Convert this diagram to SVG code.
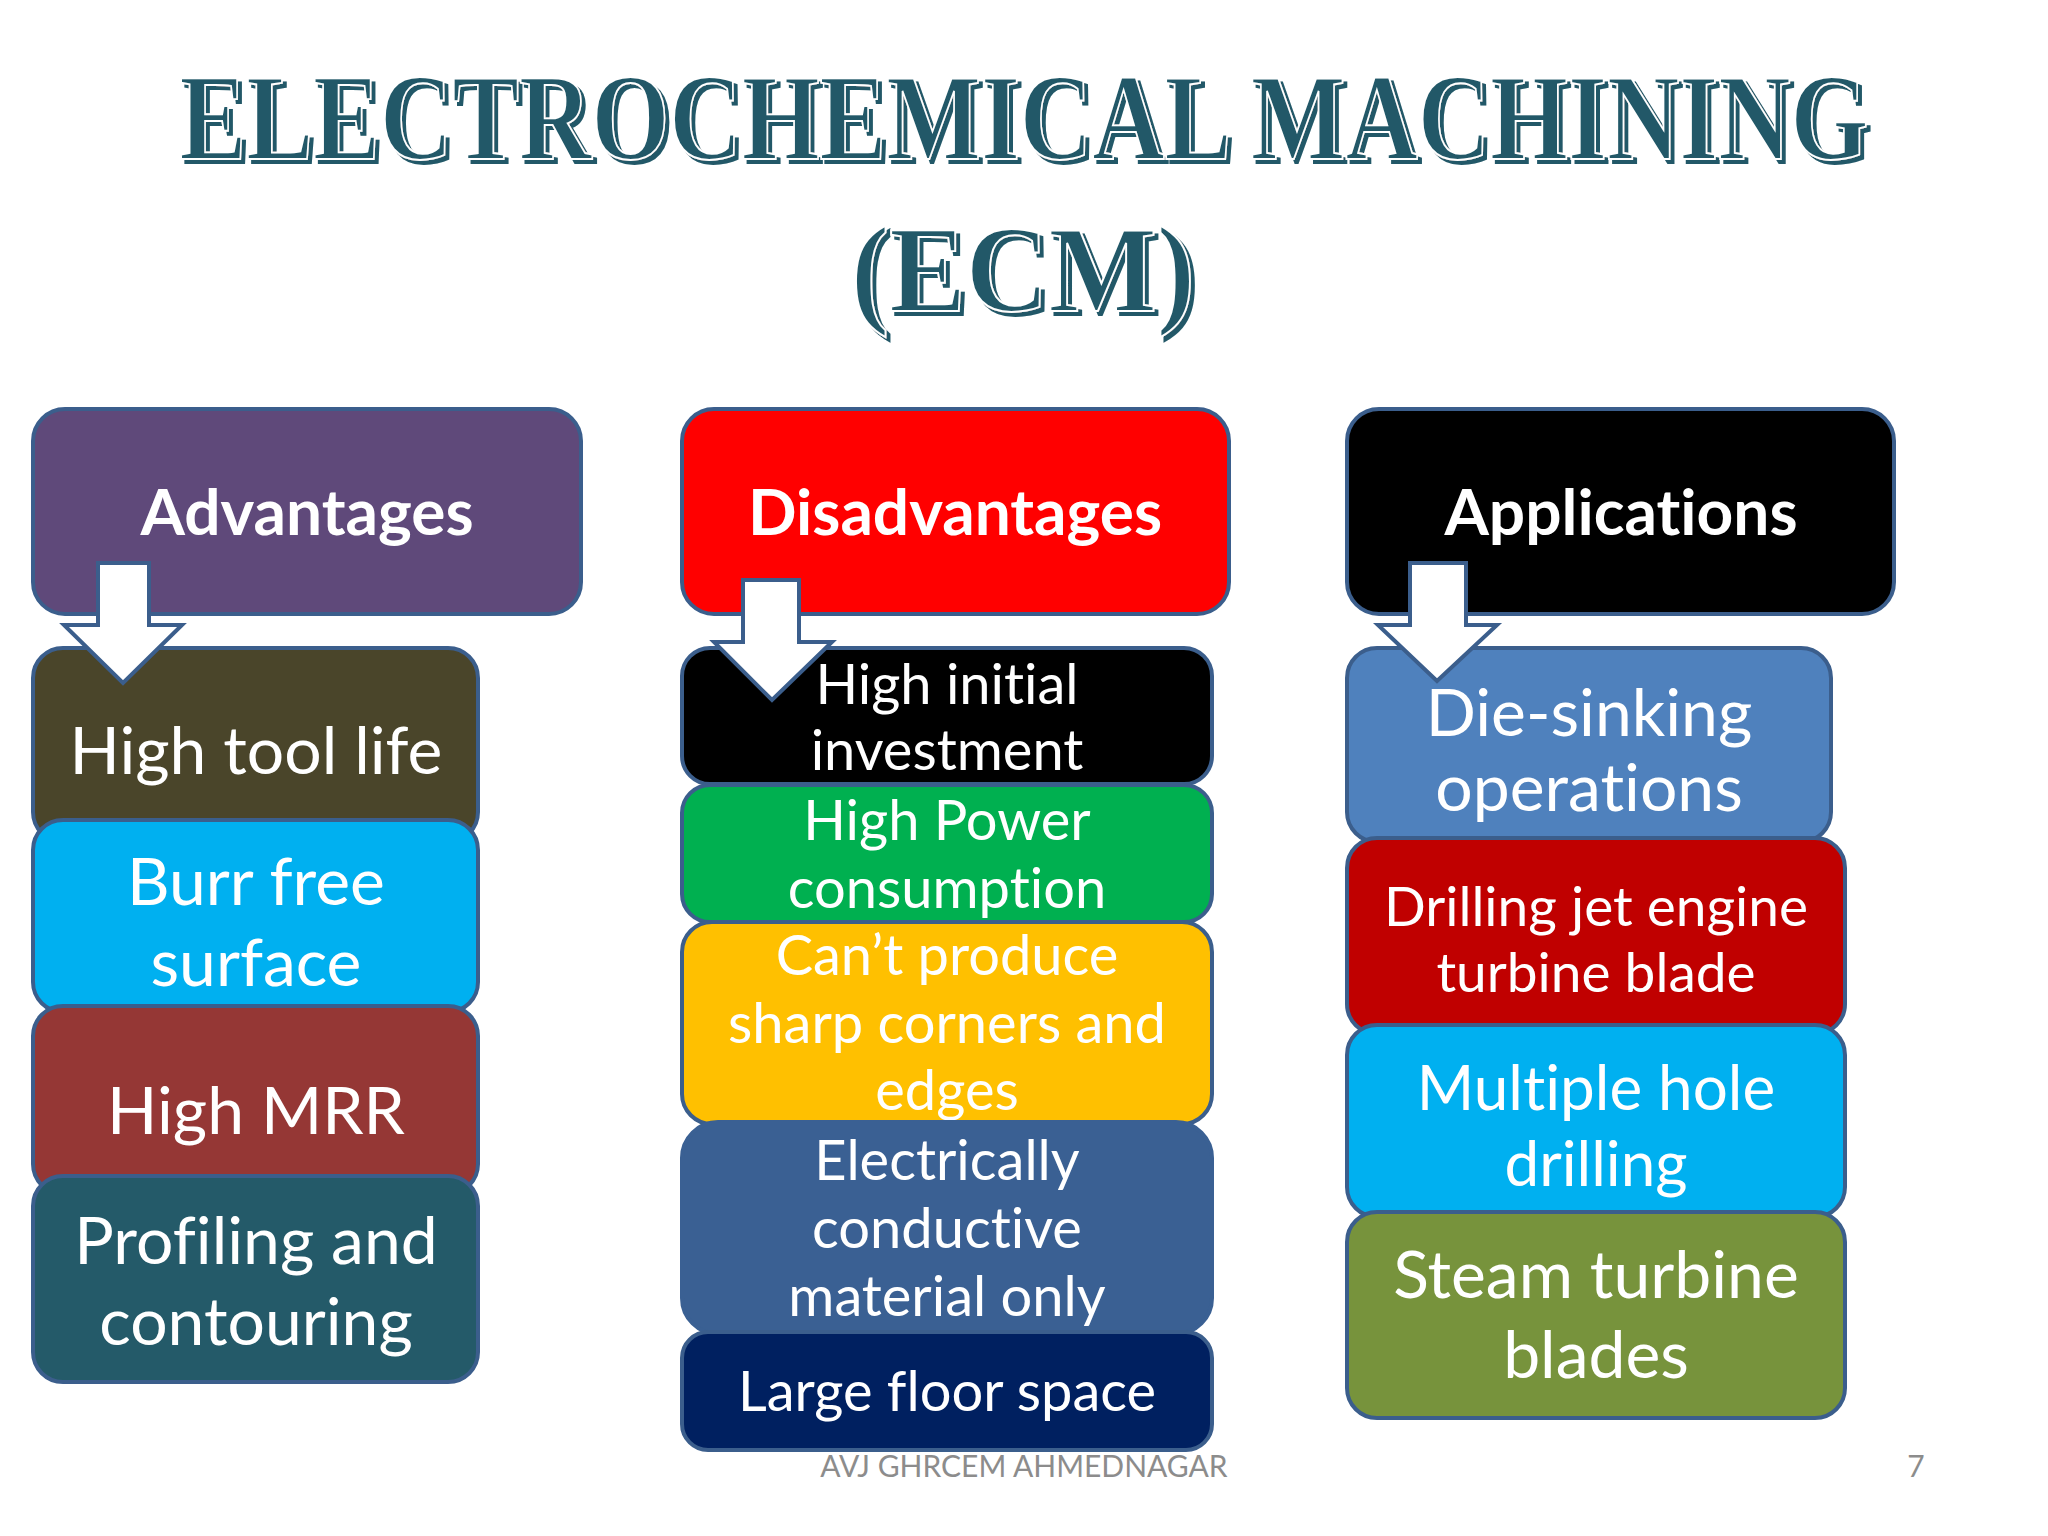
<svg xmlns="http://www.w3.org/2000/svg" width="2048" height="1536" viewBox="0 0 2048 1536">
<defs>
<filter id="shadow" x="-5%" y="-20%" width="110%" height="150%">
<feOffset in="SourceAlpha" dx="4" dy="3" result="off"/>
<feFlood flood-color="#215868"/>
<feComposite in2="off" operator="in" result="sh"/>
<feMerge><feMergeNode in="sh"/><feMergeNode in="SourceGraphic"/></feMerge>
</filter>
</defs>
<style>
.box{stroke:#3B5E8C;stroke-width:4}
.t{font-family:Lato,"Open Sans","Liberation Sans",sans-serif;fill:#fff;text-anchor:middle;font-variant-ligatures:none;font-feature-settings:"liga" 0,"clig" 0,"dlig" 0,"calt" 0}
.h{font-weight:bold;font-size:64px}
.a{font-size:66px}
.m{font-size:56px}
.r{font-size:55px}
.title{font-family:"Liberation Serif","DejaVu Serif",serif;font-weight:bold;font-size:100px;text-anchor:middle;fill:#215868;stroke:#fff;stroke-width:1.6;filter:url(#shadow)}
.arrow{fill:#fff;stroke:#3B5E8C;stroke-width:4;stroke-linejoin:miter}
.foot{font-family:Lato,"Open Sans",sans-serif;font-size:30px;fill:#8C8C8C;text-anchor:middle}
</style>
<rect width="2048" height="1536" fill="#fff"/>
<g id="title">
<text class="title" transform="translate(1024,159) scale(1,1.22)" x="0" y="0" textLength="1689" lengthAdjust="spacingAndGlyphs">ELECTROCHEMICAL MACHINING</text>
<text class="title" transform="translate(1023,311) scale(1,1.22)" x="0" y="0" textLength="344" lengthAdjust="spacingAndGlyphs">(ECM)</text>
</g>
<g id="footer">
<text class="foot" x="1024" y="1477">AVJ GHRCEM AHMEDNAGAR</text>
<text class="foot" x="1916" y="1477">7</text>
</g>
<g id="advantages">
<rect class="box" x="33" y="409" width="548" height="205" rx="32" fill="#5F497A"/>
<text class="t h" x="307" y="535">Advantages</text>
</g>
<g id="adv-tool-life">
<rect class="box" x="33" y="648" width="445" height="194" rx="30" fill="#4A452A"/>
<text class="t a" x="256" y="774">High tool life</text>
</g>
<g id="adv-burr">
<rect class="box" x="33" y="820" width="445" height="192" rx="30" fill="#00B0F0"/>
<text class="t a" x="256" y="905">Burr free</text>
<text class="t a" x="256" y="986">surface</text>
</g>
<g id="adv-mrr">
<rect class="box" x="33" y="1006" width="445" height="188" rx="30" fill="#953735"/>
<text class="t a" x="256" y="1134">High MRR</text>
</g>
<g id="adv-profiling">
<rect class="box" x="33" y="1176" width="445" height="206" rx="30" fill="#245A69"/>
<text class="t a" x="256" y="1264">Profiling and</text>
<text class="t a" x="256" y="1345">contouring</text>
</g>
<g id="disadvantages">
<rect class="box" x="682" y="409" width="547" height="205" rx="32" fill="#FF0000"/>
<text class="t h" x="955" y="535">Disadvantages</text>
</g>
<g id="dis-investment">
<rect class="box" x="682" y="648" width="530" height="136" rx="28" fill="#000000"/>
<text class="t m" x="947" y="704">High initial</text>
<text class="t m" x="947" y="770">investment</text>
</g>
<g id="dis-power">
<rect class="box" x="682" y="785" width="530" height="137" rx="28" fill="#00B050"/>
<text class="t m" x="947" y="840">High Power</text>
<text class="t m" x="947" y="908">consumption</text>
</g>
<g id="dis-corners">
<rect class="box" x="682" y="922" width="530" height="202" rx="30" fill="#FFC000"/>
<text class="t m" x="947" y="975">Can’t produce</text>
<text class="t m" x="947" y="1043">sharp corners and</text>
<text class="t m" x="947" y="1110">edges</text>
</g>
<g id="dis-conductive">
<rect x="682" y="1122" width="530" height="212" rx="36" fill="#3A6093" stroke="#3A6093" stroke-width="4"/>
<text class="t m" x="947" y="1180">Electrically</text>
<text class="t m" x="947" y="1248">conductive</text>
<text class="t m" x="947" y="1316">material only</text>
</g>
<g id="dis-floor">
<rect class="box" x="682" y="1332" width="530" height="118" rx="26" fill="#002060"/>
<text class="t m" x="947" y="1411">Large floor space</text>
</g>
<g id="applications">
<rect class="box" x="1347" y="409" width="547" height="205" rx="32" fill="#000000"/>
<text class="t h" x="1621" y="535">Applications</text>
</g>
<g id="app-die">
<rect class="box" x="1347" y="648" width="484" height="194" rx="30" fill="#4F81BD"/>
<text class="t a" x="1589" y="736">Die-sinking</text>
<text class="t a" x="1589" y="811">operations</text>
</g>
<g id="app-drilling">
<rect class="box" x="1347" y="838" width="498" height="196" rx="30" fill="#C00000"/>
<text class="t r" x="1596" y="926">Drilling jet engine</text>
<text class="t r" x="1596" y="992">turbine blade</text>
</g>
<g id="app-multiple">
<rect class="box" x="1347" y="1025" width="498" height="192" rx="30" fill="#00B0F0"/>
<text class="t" x="1596" y="1110" font-size="62">Multiple hole</text>
<text class="t" x="1596" y="1186" font-size="62">drilling</text>
</g>
<g id="app-steam">
<rect class="box" x="1347" y="1212" width="498" height="206" rx="30" fill="#77933C"/>
<text class="t a" x="1596" y="1298">Steam turbine</text>
<text class="t a" x="1596" y="1378">blades</text>
</g>
<g id="connectors">
<path class="arrow" d="M98,563 H149 V625 H182 L123,683 L64,625 H98 Z"/>
<path class="arrow" d="M743,580 H799 V642 H832 L772,700 L714,642 H743 Z"/>
<path class="arrow" d="M1410,563 H1466 V625 H1497 L1437,681 L1378,625 H1410 Z"/>
</g>
</svg>
